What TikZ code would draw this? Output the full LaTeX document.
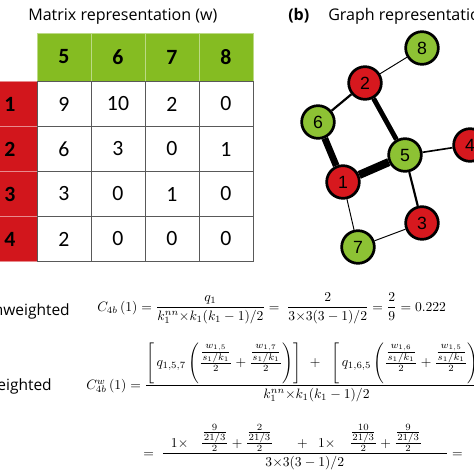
\documentclass[tikz,border=0pt]{standalone}
\usepackage{amsmath,amssymb}
\usepackage{fontspec}
\setmainfont{Open Sans}
\newfontfamily\cellfont{Carlito}
\newfontfamily\nodefont{Liberation Sans}
\usepackage{xcolor}
\usepackage{tikz}
\usetikzlibrary{positioning,backgrounds}
\definecolor{hgreen}{RGB}{133,188,34}
\definecolor{hred}{RGB}{210,22,28}
\definecolor{ngreen}{RGB}{141,194,52}
\definecolor{nred}{RGB}{215,24,30}
% half of a fraction, both levels at script size
\newcommand{\halffrac}[2]{\frac{\genfrac{}{}{}{1}{#1}{#2}}{2}}
\tikzset{
  cell/.style={draw=black!65, line width=0.7pt, fill=white, minimum width=39.7pt, minimum height=33pt, inner sep=0pt, font=\cellfont\fontsize{16}{16}\selectfont},
  hcell/.style={cell, draw=hgreen!55!white, fill=hgreen, font=\cellfont\bfseries\fontsize{16}{16}\selectfont},
  rcell/.style={cell, draw=hred!50!white, fill=hred, font=\cellfont\bfseries\fontsize{16}{16}\selectfont},
  vnode/.style={circle, draw=black, line width=2pt, minimum size=24pt, inner sep=0pt, font=\nodefont\fontsize{13}{13}\selectfont},
  gnode/.style={vnode, fill=ngreen},
  rnode/.style={vnode, fill=nred},
  link/.style={line width=#1},
  title/.style={anchor=base west, inner sep=0pt, font=\fontsize{11.8}{13}\selectfont},
  sidelabel/.style={anchor=base east, inner sep=0pt, font=\fontsize{11.4}{13}\selectfont},
  eq/.style={anchor=base west, inner sep=0pt, font=\fontsize{10}{12}\selectfont}
}

\begin{document}
\begin{tikzpicture}[x=0.735pt, y=-0.735pt]
  \useasboundingbox (0,0) rectangle (474,474);
  \clip (0,0) rectangle (474,474);
  % titles
  \node[title] (mtitle) at (28,20) {Matrix representation (w)};
  \node[title, font=\bfseries\fontsize{11.8}{13}\selectfont] (blabel) at (288,20) {(b)};
  \node[title] (gtitle) at (328,20) {Graph representation};
  % matrix w
  \foreach \c in {5,...,8}
    \node[hcell, minimum height=35.3pt] (h\c) at ({64+(\c-5)*54},57) {\c};
  \foreach \r in {1,...,4}
    \node[rcell] (r\r) at (10,{59+\r*45}) {\r};
  \foreach \r/\vals in {1/{9,10,2,0},2/{6,3,0,1},3/{3,0,1,0},4/{2,0,0,0}}
    \foreach \v [count=\c from 5] in \vals
      \node[cell] (w\r\c) at ({64+(\c-5)*54},{59+\r*45}) {\v};
  % graph
  \node[gnode] (n8) at (422,48) {8};
  \node[rnode] (n2) at (365,83) {2};
  \node[gnode] (n6) at (318,122) {6};
  \node[gnode] (n5) at (405,155) {5};
  \node[rnode] (n4) at (470,145) {4};
  \node[rnode] (n1) at (343,182) {1};
  \node[rnode] (n3) at (422,223) {3};
  \node[gnode] (n7) at (358,247) {7};
  \begin{pgfonlayer}{background}
    \draw[link=0.7pt] (n2) -- (n8);
    \draw[link=1.6pt] (n2) -- (n6);
    \draw[link=3.6pt] (n2) -- (n5);
    \draw[link=5pt] (n6) -- (n1);
    \draw[link=6pt] (n1) -- (n5);
    \draw[link=1.2pt] (n5) -- (n4);
    \draw[link=1.6pt] (n5) -- (n3);
    \draw[link=0.7pt] (n1) -- (n7);
    \draw[link=0.7pt] (n7) -- (n3);
  \end{pgfonlayer}
  % formulas
  \node[sidelabel] (unw) at (70,315) {Unweighted};
  \node[eq] (equnw) at (97,311) {$C_{4b}\,(1)=\dfrac{q_1}{k_1^{nn}{\times}k_1(k_1-1)/2}=\ \dfrac{2}{3{\times}3(3-1)/2}=\dfrac{2}{9}=0.222$};
  \node[sidelabel] (wei) at (52,390) {Weighted};
  \node[eq] (eqw) at (86,389) {$C^{w}_{4b}\,(1)=\dfrac{\left[\,q_{1,5,7}\left(\halffrac{w_{1,5}}{s_1/k_1}+\halffrac{w_{1,7}}{s_1/k_1}\right)\right]\hspace{4pt}+\hspace{6pt}\left[\,q_{1,6,5}\left(\halffrac{w_{1,6}}{s_1/k_1}+\halffrac{w_{1,5}}{s_1/k_1}\right)\right]}{k_1^{nn}{\times}k_1(k_1-1)/2}$};
  \node[eq] (eqnum) at (143,457) {$=\ \dfrac{\hspace{6pt}1{\times}\hspace{9pt}\halffrac{9}{21/3}+\halffrac{2}{21/3}\hspace{15pt}+\hspace{5.5pt}1{\times}\hspace{10pt}\halffrac{10}{21/3}+\halffrac{9}{21/3}\hspace{18pt}}{3{\times}3(3-1)/2}=$};
\end{tikzpicture}
\end{document}
